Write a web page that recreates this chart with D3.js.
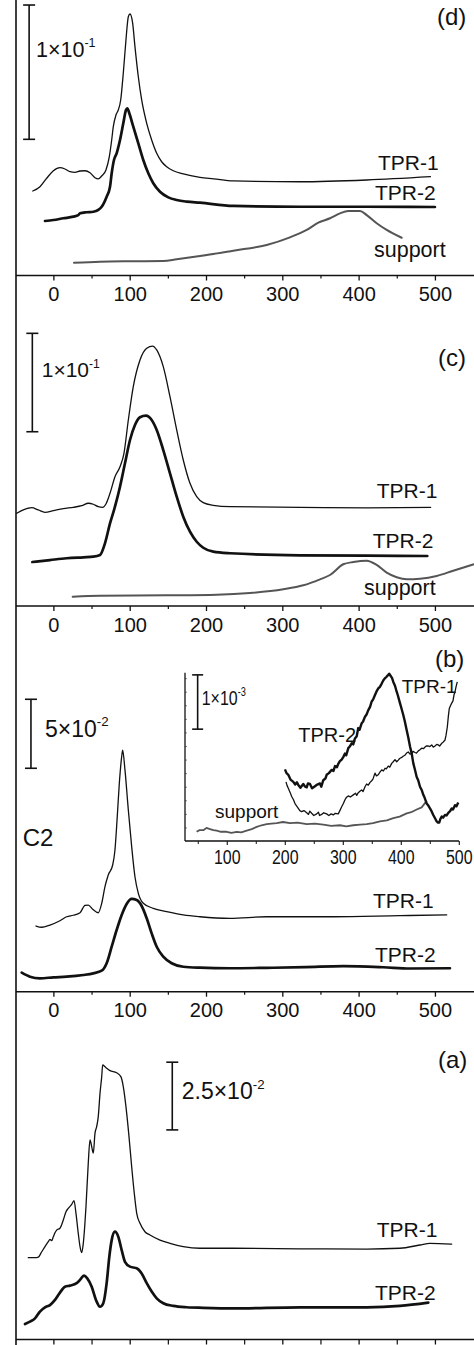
<!DOCTYPE html>
<html><head><meta charset="utf-8">
<script src="https://cdn.jsdelivr.net/npm/d3@7"></script>
<style>
body{margin:0;background:#fff}
svg{display:block}
text{font-family:"Liberation Sans",Arial,Helvetica,sans-serif;fill:#111}
</style>
</head><body>
<svg id="chart" width="474" height="1345"></svg>
<script>
// ---------------- DATA (temperature °C, signal in 10^-3 a.u., arbitrary offsets) ----------------
const xTicks = [0, 100, 200, 300, 400, 500];
const xMinorTicks = [50, 150, 250, 350, 450];
const insetTicks = [100, 200, 300, 400, 500];
const insetMinorTicks = [50, 150, 250, 350, 450];

// panel (d)
const dTPR1 = [[-27,62.9],[-17.6,66.1],[-8.8,72.4],[0,78],[8.6,80.3],[15.2,79.3],[21.8,77.3],[28.3,76.8],[34.9,77.8],[41.4,78],[48,76.5],[54.5,72.8],[58.8,71.9],[63.3,74.1],[68.9,78.6],[73.3,88.5],[76.4,100.9],[78.5,110.8],[82,119.5],[85,123.2],[88.2,130.7],[91.6,150.6],[95.1,175.4],[98.2,192.7],[100.4,194.7],[103.9,187.8],[106.9,170.4],[111.3,148],[115.7,130.7],[122.3,113.3],[128.8,100.9],[135.4,91],[141.9,84.7],[148.5,81],[157.1,78],[170.2,75.6],[192.1,73.1],[210,72],[235.8,70.4],[323.2,69.8],[410.6,71.1],[494.1,73.6]];
const dTPR2 = [[-11,40.6],[0,41.3],[13,42.6],[26.1,43.8],[32.6,45],[34.9,46.3],[43.6,47.1],[52.3,47.5],[58.8,48.8],[63.3,51.2],[69.8,58.7],[74.2,66.1],[76.4,76.1],[79.4,86],[82.9,91],[87.3,100.9],[91.6,113.3],[95.1,123.2],[96.8,124.5],[99.5,120.8],[104.7,110.8],[111.3,98.4],[117.8,86],[124.4,76.1],[130.9,68.7],[139.7,62.4],[150.6,58.2],[161.6,56.2],[174.7,55],[192.1,54.2],[235.8,51.8],[323.2,51.2],[410.6,51.2],[500,51]];
const dSupport = [[27,9.5],[61.1,10.3],[104.7,10.6],[144,10.8],[161.6,12.1],[192.1,14.5],[235.8,18.5],[279.5,22.7],[310,28.4],[331.9,33.9],[347.2,39.3],[362.5,42.6],[375.6,46.3],[386.5,48],[401.8,48],[410.6,45],[423.7,38.9],[436.8,33.9],[456.4,28.1]];

// panel (c)
const cTPR1 = [[-48,94.2],[-39.4,97.6],[-28.4,99.9],[-19.8,97.6],[-11,95.2],[0,96.9],[13,98.9],[26.1,100.3],[37.1,101.9],[45.8,104.4],[52.3,103.4],[58.8,100.9],[64.6,100.3],[68.9,103.7],[74.2,114.5],[80.7,131.4],[87.3,141.6],[92.5,155.2],[98.2,189],[104.7,222.9],[113.5,250],[122.3,261.9],[130.1,264.2],[135.4,260.2],[144,243.2],[152.8,212.7],[161.6,178.9],[170.2,148.4],[179,124.7],[187.8,111.1],[196.4,105],[209.5,102.3],[231.4,100.9],[323.2,100.3],[410.6,99.8],[494.4,100.3]];
const cTPR2 = [[-27.6,44.7],[-4.5,46.7],[17.4,48.5],[39.2,49.5],[52.3,50.1],[61.1,51.8],[67.6,63.7],[74.2,84],[80.7,100.9],[87.3,121.2],[93.8,145],[100.4,168.7],[106.9,183.9],[113.5,191.8],[121.3,193.4],[128.8,189],[135.4,178.9],[144,158.5],[152.8,134.9],[161.6,111.1],[170.2,90.8],[179,75.5],[187.8,65.3],[196.4,59.2],[209.5,55.2],[231.4,53.6],[323.2,51.5],[410.6,51.1],[490,50.8]];
const cSupport = [[25.3,9.5],[61.1,10.5],[148.5,10.9],[214,11.5],[257.6,13.2],[301.3,17],[327.5,21],[349.4,27.1],[362.5,31.5],[379.9,42.4],[393,44.7],[410.6,46.1],[423.7,41.7],[436.8,33.9],[449.9,29.2],[463,27.1],[480.4,27.7],[502.3,30.5],[524,35.9],[551,42.4]];

// panel (b)
const bTPR1 = [[-22.8,47.6],[-15.3,46.7],[-4.5,48.3],[8.6,51.4],[17.4,54.3],[26.1,55.4],[34.9,57.2],[41.4,62.6],[45.8,62.8],[51.5,59.7],[58.8,57.2],[63.3,64],[67.6,76.1],[71.9,84.6],[77.7,91.8],[80.7,102.7],[83.7,126.8],[86.4,151],[89.5,170.3],[90.8,175.1],[93.8,160.7],[98.2,131.7],[102.6,105.1],[106.9,83.3],[111.3,71.3],[117.8,64.1],[130.9,60.4],[148.5,58],[170.2,55.6],[192.1,54.3],[231.4,53.2],[279.5,54.3],[366.8,54.3],[454.2,55.1],[515.4,55.6]];
const bTPR2 = [[-41.5,13.8],[-30.7,10.9],[-17.6,9.7],[0,10.4],[17.4,10.9],[39.2,12.1],[52.3,13.3],[63.3,15.2],[69.8,20.6],[76.4,32.6],[82.9,44.7],[89.5,55.6],[96,63.6],[102.6,67.2],[109.2,66.4],[115.7,62.1],[122.3,53.2],[128.8,42.3],[135.4,32.6],[144,25.4],[155,20.6],[170.2,18.1],[192.1,17.4],[231.4,17],[279.5,17.3],[330,17.8],[380,18.5],[432.3,17.7],[467.3,16.8],[519.7,17]];

// inset of (b), signal in 10^-3 a.u.
const insetSupport = [[48,0.17],[53,0.2],[59.5,0.2],[65,0.24],[71,0.22],[77,0.2],[82.6,0.19],[90,0.17],[99.8,0.17],[108,0.15],[117.1,0.17],[125,0.16],[134.3,0.19],[143,0.22],[151.6,0.26],[160,0.29],[168.8,0.31],[177,0.32],[186,0.33],[197,0.35],[209,0.33],[222,0.34],[237.8,0.31],[252,0.32],[266.4,0.3],[280,0.28],[295.2,0.29],[306,0.27],[318.1,0.29],[330,0.3],[341.2,0.31],[352,0.33],[364.1,0.36],[376,0.38],[387.1,0.42],[398,0.45],[410.2,0.51],[418,0.53],[427.4,0.58],[436,0.62],[444.7,0.74]];
const insetTPR2 = [[200.3,1.32],[203,1.25],[206.1,1.22],[210,1.13],[214.7,1.09],[218,1.04],[221,1.08],[223.3,1.03],[227,0.98],[231.9,1.05],[235,1.0],[237.8,0.99],[240,1.06],[243.4,1.05],[247,0.97],[252.1,1.01],[256,1.04],[260.7,1.06],[263,1.0],[266.4,1.12],[270,1.15],[272.2,1.22],[276,1.25],[280.9,1.31],[284,1.29],[286.6,1.38],[290,1.36],[292.2,1.42],[295,1.47],[298.1,1.5],[301,1.55],[303.8,1.61],[306,1.58],[309.5,1.71],[312,1.74],[315.3,1.8],[318,1.78],[321,1.89],[324,1.93],[326.7,2.08],[329,2.05],[332.6,2.17],[335,2.2],[338.3,2.29],[341,2.33],[344,2.41],[347,2.47],[349.8,2.57],[352,2.6],[355.5,2.69],[358,2.75],[361.2,2.81],[364,2.84],[367.1,2.9],[370,2.96],[372.8,3.0],[375,3.02],[378.4,3.06],[380,3.08],[382.6,3.04],[385,3.0],[387.1,2.93],[390,2.86],[392.9,2.75],[395,2.68],[398.6,2.54],[401,2.45],[404.3,2.32],[407,2.2],[410.2,2.04],[413,1.9],[415.9,1.74],[419,1.6],[421.6,1.43],[424,1.33],[427.4,1.18],[430,1.12],[433.1,1.0],[436,0.94],[438.8,0.85],[441,0.8],[444.7,0.69],[447,0.66],[450.3,0.6],[453,0.55],[456,0.48],[459,0.42],[461.9,0.36],[464,0.34],[466.4,0.34],[468,0.4],[470.5,0.45],[473,0.43],[476.2,0.48],[479,0.47],[481.9,0.52],[485,0.55],[487.8,0.6],[490,0.58],[493.4,0.66],[496,0.64],[499.1,0.71]];
const insetTPR1 = [[202.1,1.09],[204,1.02],[206.1,0.97],[209,0.9],[211.9,0.82],[215,0.76],[217.6,0.69],[220,0.65],[223.3,0.6],[226,0.56],[229.1,0.54],[233,0.56],[237.8,0.52],[241,0.49],[243,0.55],[246.4,0.51],[250,0.47],[255,0.5],[258,0.53],[260,0.47],[263.6,0.49],[267,0.52],[272.2,0.5],[276,0.47],[280,0.5],[283.6,0.48],[287,0.51],[292.2,0.5],[295,0.56],[298.1,0.63],[301,0.69],[303.8,0.76],[306,0.8],[309.5,0.83],[313,0.81],[318.1,0.85],[322,0.88],[324,0.84],[326.7,0.89],[330,0.92],[332.6,0.94],[335,0.91],[338.3,1.0],[341,1.05],[344,1.03],[347,1.08],[349.8,1.11],[352,1.14],[355.5,1.25],[358,1.2],[361.2,1.22],[364,1.27],[367.1,1.31],[370,1.29],[372.8,1.34],[375,1.33],[378.4,1.38],[381,1.36],[384.3,1.43],[387,1.46],[390,1.5],[393,1.46],[395.7,1.49],[398,1.52],[401.6,1.54],[404,1.56],[407.2,1.58],[410,1.62],[412.9,1.64],[416,1.6],[418.8,1.61],[421,1.65],[424.5,1.63],[427,1.62],[430.2,1.66],[433,1.68],[436,1.71],[439,1.7],[441.7,1.73],[444,1.75],[447.4,1.75],[450,1.74],[453.3,1.77],[456,1.73],[459,1.75],[462,1.78],[464.7,1.77],[467,1.75],[470.5,1.8],[473,1.82],[476.2,1.86],[478,1.95],[480.2,2.1],[482,2.3],[483.6,2.44],[486,2.5],[487.8,2.54],[490,2.58],[491.7,2.69],[493.5,2.75],[495.2,2.84],[497.4,2.93]];

// panel (a)
const aTPR1 = [[-32.9,30.2],[-24.1,30.2],[-19.8,30.4],[-15.3,32.4],[-11,34.3],[-6.7,36.1],[-4.5,37],[-2.2,36.5],[0,38],[2.1,39.4],[4.3,40.4],[8.6,41.1],[13,44.1],[16.5,47.2],[19.5,48.4],[24,49.9],[27,51.3],[29.6,46.6],[32.6,39.2],[34.9,34.3],[37.1,32.1],[39.2,35.5],[42.7,49],[45.7,65.1],[48,73.7],[50.2,71.2],[52.3,68.8],[54.5,76.1],[56.7,78.6],[58.8,82.3],[61.1,90.9],[63.3,97],[64.6,101.4],[67.6,100.7],[74.2,99.3],[82.9,98.5],[88.6,97],[91.6,93.4],[95.1,86],[98.7,76.1],[102.6,63.8],[106,54],[109.2,46.6],[113.5,42.9],[120,39.8],[126.6,38.6],[139.7,36.7],[152.8,35.5],[170.2,34.3],[192.1,33.7],[235.8,33.7],[323.2,33.5],[410.6,33.4],[454.2,33.7],[480.4,34.9],[493.5,35.5],[521.9,35.2]];
const aTPR2 = [[-37.2,5.7],[-30.7,6.6],[-24.1,7.8],[-17.6,10.3],[-11,11.9],[-4.5,12.7],[2.1,14.6],[8.6,17.3],[15.2,19.5],[21.8,19.9],[30.5,20.8],[34.9,22],[40.1,23.6],[44.4,22.6],[50.2,19.5],[55.8,14.6],[61.1,12.1],[65.4,13.4],[69.8,20.8],[73.3,30.6],[76.4,36.7],[80.7,39.8],[85,38],[89.5,33],[93.8,28.7],[100.4,26.9],[109.2,26.3],[115.7,24.4],[122.3,20.8],[128.8,17.7],[135.4,15.2],[144,13.4],[157.1,12.4],[174.7,11.9],[196.4,11.7],[235.8,11.5],[323.2,11.9],[410.6,11.9],[454.2,12.4],[491.3,13.6]];

// ---------------- LAYOUT ----------------
const svg = d3.select('#chart');
const FONT = '"Liberation Sans",Arial,Helvetica,sans-serif';
const x = d3.scaleLinear().domain([-49, 552]).range([16, 474.6]);

const STY = {
  thin: {stroke:'#111', w:1.3},
  thick:{stroke:'#111', w:2.7},
  sup:  {stroke:'#555', w:2.0}
};

const panels = [
  {key:'d', axisY:275.5, topY:0, ppu:1.343, tickLabels:true,
   series:[[dTPR1,'thin'],[dTPR2,'thick'],[dSupport,'sup']],
   bar:{x:-31.8, from:101.4, to:201.4, label:'1\u00d710', exp:'-1', lx:36, ly:56.7, fs:21.5},
   letter:{t:'(d)', x:437, y:25},
   labels:[['TPR-1',378,169.5],['TPR-2',375,200],['support',374,256.7]]},
  {key:'c', axisY:606, topY:310, ppu:0.984, tickLabels:true,
   series:[[cTPR1,'thin'],[cTPR2,'thick'],[cSupport,'sup']],
   bar:{x:-27.6, from:177.1, to:277.1, label:'1\u00d710', exp:'-1', lx:41.7, ly:377, fs:21},
   letter:{t:'(c)', x:438, y:366},
   labels:[['TPR-1',376.7,498.3],['TPR-2',372.7,548.3],['support',364,595]]},
  {key:'b', axisY:991.7, topY:640, ppu:1.38, tickLabels:true,
   series:[[bTPR1,'thin'],[bTPR2,'thick']],
   bar:{x:-29.4, from:161.9, to:211.9, label:'5\u00d710', exp:'-2', lx:45, ly:736.7, fs:23},
   letter:{t:'(b)', x:435, y:667},
   labels:[['TPR-1',373,908.3],['TPR-2',375,961.7],['C2',22.7,846,24]]},
  {key:'a', axisY:1339.5, topY:1020, ppu:2.708, tickLabels:false,
   series:[[aTPR1,'thin'],[aTPR2,'thick']],
   bar:{x:155.8, from:77.4, to:102.4, label:'2.5\u00d710', exp:'-2', lx:181.7, ly:1099.3, fs:23},
   letter:{t:'(a)', x:438, y:1068},
   labels:[['TPR-1',376.7,1236.7],['TPR-2',375,1300]]}
];

function drawBar(g, px, py0, py1, half){
  g.append('line').attr('x1',px).attr('x2',px).attr('y1',py0).attr('y2',py1)
    .attr('stroke','#111').attr('stroke-width',1.6);
  [py0,py1].forEach(p=>g.append('line').attr('x1',px-half).attr('x2',px+half)
    .attr('y1',p).attr('y2',p).attr('stroke','#111').attr('stroke-width',1.6));
}
function expText(g, label, exp, lx, ly, fs, sx){
  const t = g.append('text').attr('font-size',fs)
    .attr('transform',`translate(${lx},${ly}) scale(${sx||1},1)`);
  t.append('tspan').text(label);
  t.append('tspan').attr('font-size',fs*0.58).attr('dy',-fs*0.45).text(exp);
}

panels.forEach(p=>{
  const y = d3.scaleLinear().domain([0,(p.axisY-p.topY)/p.ppu]).range([p.axisY,p.topY]);
  const g = svg.append('g').attr('class','panel-'+p.key);
  const line = d3.line().x(d=>x(d[0])).y(d=>y(d[1])).curve(d3.curveMonotoneX);
  p.series.forEach(([data,s])=>{
    g.append('path').datum(data).attr('d',line).attr('fill','none')
      .attr('stroke',STY[s].stroke).attr('stroke-width',STY[s].w)
      .attr('stroke-linejoin','round').attr('stroke-linecap','round');
  });
  // x axis
  const ax = g.append('g').attr('transform',`translate(0,${p.axisY})`);
  ax.call(d3.axisBottom(x).tickValues(xTicks).tickSize(5).tickPadding(6.3)
    .tickFormat(p.tickLabels ? d3.format('d') : ''));
  ax.select('.domain').remove();
  ax.selectAll('line').attr('stroke','#111').attr('stroke-width',1.3);
  ax.selectAll('text').attr('font-size',20).attr('font-family',FONT).attr('fill','#111');
  if(!p.tickLabels) ax.selectAll('text').remove();
  const axm = g.append('g').attr('transform',`translate(0,${p.axisY})`);
  axm.call(d3.axisBottom(x).tickValues(xMinorTicks).tickSize(p.tickLabels?3:5).tickFormat(''));
  axm.select('.domain').remove();
  axm.selectAll('text').remove();
  axm.selectAll('line').attr('stroke','#111').attr('stroke-width',1.2);
  g.append('line').attr('x1',16).attr('x2',474).attr('y1',p.axisY).attr('y2',p.axisY)
    .attr('stroke','#111').attr('stroke-width',1.6);
  // scale bar
  drawBar(g, x(p.bar.x), y(p.bar.from), y(p.bar.to), 6);
  expText(g, p.bar.label, p.bar.exp, p.bar.lx, p.bar.ly, p.bar.fs);
  // letter & labels
  g.append('text').attr('x',p.letter.x).attr('y',p.letter.y).attr('font-size',24).text(p.letter.t);
  p.labels.forEach(([t,lx,ly,fs])=>{
    g.append('text').attr('x',lx).attr('y',ly).attr('font-size',fs||(t==='support'?21.5:21)).text(t);
  });
});

// left axis (shared)
svg.append('line').attr('x1',16).attr('x2',16).attr('y1',0).attr('y2',1345)
  .attr('stroke','#111').attr('stroke-width',1.6);

// ---------------- INSET of (b) ----------------
const xi = d3.scaleLinear().domain([28,500]).range([185,458.8]);
const yi = d3.scaleLinear().domain([0,3.1]).range([841,672.7]);
const gi = svg.append('g').attr('class','inset');
const li = d3.line().x(d=>xi(d[0])).y(d=>yi(d[1]));
[[insetSupport,'sup',1.8],[insetTPR1,'thin',1.3],[insetTPR2,'thick',2.4]].forEach(([data,s,w])=>{
  gi.append('path').datum(data).attr('d',li).attr('fill','none')
    .attr('stroke',STY[s].stroke).attr('stroke-width',w).attr('stroke-linejoin','round');
});
const iax = gi.append('g').attr('transform','translate(0,841)');
iax.call(d3.axisBottom(xi).tickValues(insetTicks).tickSize(4).tickPadding(4.1).tickFormat(d3.format('d')));
iax.select('.domain').remove();
iax.selectAll('line').attr('stroke','#111').attr('stroke-width',1.1);
iax.selectAll('text').attr('font-size',21).attr('font-family',FONT).attr('fill','#111')
  .attr('transform','scale(0.76,1)');
const iaxm = gi.append('g').attr('transform','translate(0,841)');
iaxm.call(d3.axisBottom(xi).tickValues(insetMinorTicks).tickSize(3).tickFormat(''));
iaxm.select('.domain').remove();
iaxm.selectAll('text').remove();
iaxm.selectAll('line').attr('stroke','#111').attr('stroke-width',1);
const iay = gi.append('g').attr('transform','translate(185,0)');
iay.call(d3.axisRight(yi).tickValues([0.25,0.5,0.75,1,1.25,1.5,1.75,2,2.25,2.5,2.75,3]).tickSize(2).tickFormat(''));
iay.select('.domain').remove();
iay.selectAll('text').remove();
iay.selectAll('line').attr('stroke','#666').attr('stroke-width',0.8);
gi.append('line').attr('x1',185).attr('x2',185).attr('y1',672.7).attr('y2',841).attr('stroke','#111').attr('stroke-width',1.3);
gi.append('line').attr('x1',185).attr('x2',459).attr('y1',841).attr('y2',841).attr('stroke','#111').attr('stroke-width',1.3);
drawBar(gi, xi(49.8), yi(2.06), yi(3.06), 5.5);
expText(gi, '1\u00d710', '-3', 201.7, 705, 21, 0.76);
gi.append('text').attr('x',298.3).attr('y',741.7).attr('font-size',20).text('TPR-2');
gi.append('text').attr('x',401.7).attr('y',693).attr('font-size',19).text('TPR-1');
gi.append('text').attr('x',215).attr('y',818.3).attr('font-size',19).text('support');
</script>
</body></html>
